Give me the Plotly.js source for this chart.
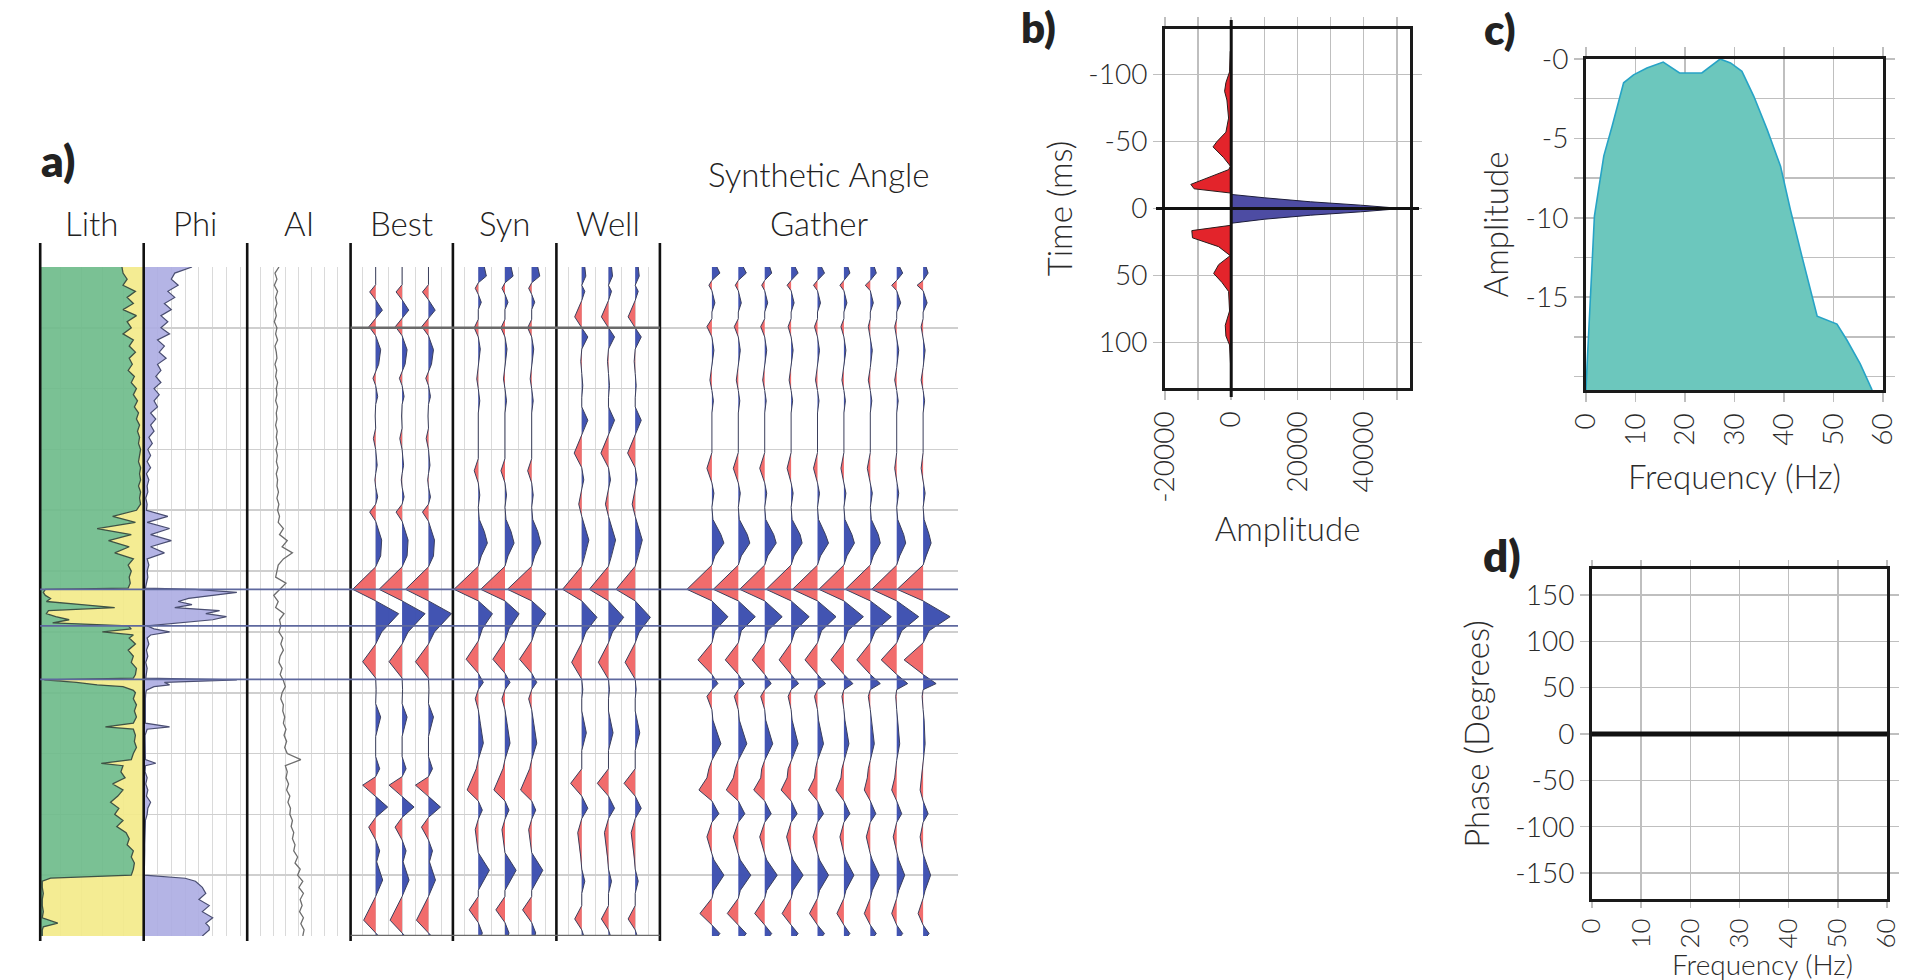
<!DOCTYPE html>
<html><head><meta charset="utf-8">
<script src="https://cdn.plot.ly/plotly-3.0.1.min.js"></script>
<style>html,body{margin:0;padding:0;background:#fff;} #chart{width:1909px;height:980px;}</style>
</head><body><div id="chart"></div>
<script>
// ---------------- DATA ----------------
// Panel a : well logs (depth in display units, 0 = top of section)
const logDepth = [0,1,2,3,4,5,6,7,8,9,10,11,12,13,14,15,16,17,18,19,20,21,22,23,24,25,26,27,28,29,30,31,32,33,34,35,36,37,38,39,40,41,42,43,44,45,46,47,48,49,50,51,52,52.8,53.0,53.5,54,54.5,55,55.5,56,56.5,57,57.5,58,58.5,59,59.5,60,60.5,61,62,63,64,65,66,67,67.6,67.9,68.3,68.7,69,69.6,70,71,72,73,74,75,75.6,76,77,78,79,80,81,81.6,82,83,84,85,86,87,88,89,90,91,92,93,94,95,96,97,98,99,100,100.5,101,102,103,104,105,106,107,107.9,108.5,109,110];
const lithShale = [0.79,0.80,0.84,0.80,0.92,0.84,0.90,0.80,0.93,0.84,0.88,0.80,0.90,0.86,0.92,0.86,0.89,0.85,0.91,0.88,0.93,0.90,0.94,0.91,0.95,0.93,0.96,0.94,0.96,0.95,0.97,0.96,0.95,0.97,0.96,0.97,0.95,0.97,0.96,0.97,0.93,0.70,0.92,0.55,0.88,0.66,0.86,0.72,0.90,0.85,0.88,0.86,0.87,0.85,0.05,0.03,0.05,0.10,0.06,0.40,0.72,0.08,0.06,0.15,0.28,0.12,0.85,0.88,0.60,0.90,0.86,0.92,0.85,0.90,0.88,0.93,0.92,0.90,0.04,0.35,0.55,0.80,0.90,0.92,0.90,0.93,0.91,0.93,0.90,0.63,0.90,0.92,0.91,0.93,0.90,0.88,0.59,0.80,0.78,0.82,0.70,0.80,0.75,0.68,0.76,0.72,0.80,0.74,0.83,0.86,0.84,0.90,0.88,0.91,0.90,0.88,0.10,0.02,0.02,0.03,0.02,0.02,0.03,0.02,0.17,0.03,0.02,0.02];
const phiValue = [0.14,0.09,0.08,0.10,0.07,0.09,0.06,0.08,0.05,0.07,0.05,0.075,0.04,0.06,0.045,0.065,0.04,0.05,0.035,0.05,0.03,0.045,0.03,0.04,0.02,0.035,0.02,0.03,0.015,0.025,0.012,0.02,0.01,0.02,0.008,0.015,0.01,0.012,0.006,0.01,0.008,0.07,0.01,0.075,0.02,0.08,0.02,0.06,0.01,0.015,0.01,0.012,0.008,0.005,0.15,0.27,0.2,0.13,0.10,0.14,0.09,0.22,0.18,0.24,0.20,0.10,0.01,0.03,0.075,0.02,0.01,0.015,0.008,0.012,0.006,0.01,0.008,0.006,0.27,0.06,0.075,0.03,0.008,0.006,0.005,0.005,0.005,0.006,0.005,0.075,0.01,0.004,0.004,0.005,0.004,0.005,0.035,0.005,0.004,0.01,0.006,0.012,0.008,0.02,0.012,0.01,0.005,0.004,0.003,0.003,0.003,0.003,0.002,0.002,0.002,0.002,0.12,0.15,0.17,0.18,0.16,0.19,0.17,0.20,0.18,0.19,0.19,0.17];
const aiDepth = [0,1,2,3,4,5,6,7,8,9,10,11,12,13,14,15,16,17,18,19,20,21,22,23,24,25,26,27,28,29,30,31,32,33,34,35,36,37,38,39,40,41,42,43,44,45,46,47,48,49,50,51,52,53,54,55,56,57,58,59,60,61,62,63,64,65,66,67,68,69,70,71,72,73,74,75,76,77,78,79,80,81,82,83,84,85,86,87,88,89,90,91,92,93,94,95,96,97,98,99,100,101,102,103,104,105,106,107,108,109,110];
const aiValue = [6460,6150,6300,6100,6350,6200,6300,6150,6250,6100,6300,6200,6350,6150,6250,6300,6150,6280,6200,6350,6250,6300,6200,6350,6250,6300,6200,6320,6250,6350,6230,6330,6260,6380,6250,6350,6300,6420,6300,6450,6350,6500,6400,6800,6500,7100,6700,7500,6800,6400,6300,6200,7000,6500,6050,6400,6200,6850,6500,6600,6450,6750,6600,6800,6550,6450,6700,6550,6800,6950,6700,6600,6800,6750,6900,6800,7000,6850,7050,6900,7100,8150,6950,7100,7000,7200,7050,7300,7150,7350,7300,7500,7400,7600,7500,7700,7600,7900,7700,8100,7900,8300,8000,8350,8100,8250,8050,8350,8150,8400,8300];

// Horizons (display depth)
const horizons = [53.0, 59.0, 67.8];

// Wiggle traces : key-point times and amplitudes
const bestT = [0,2.9,4.1,5.4,7.1,8.4,9.8,11.3,13.6,16.0,17.2,18.3,19.5,21.3,22.6,24.5,26.5,28.2,30.0,32.6,34.0,35.0,36.2,37.8,39.0,40.3,41.8,44.9,47.5,49.3,53.0,54.9,57.0,60.0,62.0,64.9,67.6,69.5,71.8,74.0,77.2,80.5,82.5,83.8,85.2,87.0,88.8,90.5,92.1,94.2,96.0,97.8,100.8,103.5,107.4,109.5,110];
const bestA = [0,0,-6,0,6.7,0,-6.7,0,5,3,0,-2.7,0,2,0,-0.5,0,-2.3,0,1.5,0,-0.8,0,2,0,-6,0,6,5,0,-23,0,23,6,0,-13,0,0.5,0,5,0,0,4,0,-13,0,12,0,-7,0,4,1,7,0,-12,0,3];
const synT = [0,1.5,2.6,3.5,4.5,5.8,7.0,8.6,10.0,11.5,13.5,16.5,18.4,20.0,22.0,24.0,31.5,33.5,35.5,37.5,39.5,41.5,43.5,45.4,47.5,49.2,53.0,54.9,57.0,59.5,61.5,64.5,66.8,68.3,69.5,71.0,72.8,75.0,78.3,81.0,82.5,86.0,87.8,89.3,90.8,92.5,96.3,99.2,102.5,103.5,105.7,107.8,109.5,110];
const synA = [6,8,0,-3,0,3,0,0,-4,0,2,0,-1.5,0,1.5,0,0,-4,0,1.5,0,1,6,9,3,0,-24,0,14,4,0,-12,0,5,0,-3,0,2,5,0,-2,-11,0,4,0,-3,0,11,0,0,-9,0,4,3];
const wellT = [0,1.5,3.0,4.0,5.5,8.2,10.0,11.5,13.5,15.5,17.5,19.5,21.5,23.0,25.2,27.5,30.6,33.0,35.0,36.5,39.0,41.0,44.9,47.5,49.2,53.0,54.9,57.6,60.0,61.8,65.0,67.8,69.5,71.0,73.0,76.6,79.5,82.5,84.9,87.0,89.0,90.7,93.0,97.0,99.0,101.0,103.0,105.0,107.2,109.0,110];
const wellA = [3,4,0,3,0,-7,0,6,0,-1,0,1,0,0,6,0,-7.5,0,2,0,-3,0,7,3,0,-19,0,15,4,0,-10,0,1,0,0,4.5,0,0,-11,0,6,0,-4,-1,0,3,0,0,-7,0,2];

// Synthetic angle gather (9 angle traces sharing key times)
const gatherT = [0,1.0,2.2,3.0,3.9,5.9,7.4,8.5,9.8,11.5,13.7,16.5,18.6,20.3,22.0,24.0,30.5,33.1,35.5,37.2,39.5,41.5,44.0,45.4,47.5,49.0,53.0,54.9,57.5,59.8,61.8,64.6,67.0,68.5,69.5,70.6,72.8,74.5,78.4,81.1,82.5,84.0,86.0,87.8,89.9,91.3,93.7,96.5,97.5,100.0,102.5,103.8,106.3,108.2,109.6,110];
const gather1 = [5,8,0,-3,0,3,0,0,-5,0,2,0,-2,0,1.5,0,0,-5,0,2,0,1,9,12,3,0,-25,0,16,3,0,-14,0,6,0,-5,0,1,9,0,-3,-5,-13,0,7,0,-5,0,2,12,2,0,-12,0,8,6];
const gather2 = [5,8,0,-3,0,3,0,0,-4,0,2,0,-2,0,1.5,0,0,-5,0,2,0,1,9,11.5,3,0,-25,0,17,3,0,-13,0,6,0,-4,0,1,8.5,0,-3,-5,-12,0,6.5,0,-5,0,2,12.5,2,0,-11,0,8,6];
const gather3 = [5,7,0,-3,0,3,0,0,-4,0,2,0,-2,0,1.5,0,0,-5,0,2,0,1,9,11.5,3,0,-25,0,17.5,3,0,-12.5,0,6.5,0,-4,0,1,8,0,-3,-4,-11,0,6.5,0,-5,0,2,12.5,2,0,-10,0,7,5];
const gather4 = [4,7,0,-4,0,3,0,0,-3,0,2,0,-2,0,1.5,0,0,-4,0,2,0,1,9,11,3,0,-25,0,18,4,0,-12,0,7.5,0,-3,0,1,7,0,-3,-4,-10,0,6,0,-4.5,0,2,12,2,0,-9,0,7,5];
const gather5 = [4,7,0,-4,0,3,0,0,-3,0,2,0,-2,0,1.5,0,0,-4,0,2,0,1,8,11,3,0,-25,0,18.5,4,0,-12.5,0,8,0,-3,0,1,6,0,-2,-3,-9,0,6,0,-4.5,0,2,11,2,0,-8,0,7,5];
const gather6 = [4,6,0,-4,0,3,0,0,-3,0,2,0,-2,0,1.5,0,0,-3,0,2,0,1,8,10.5,3,0,-25,0,19.5,4,0,-13,0,9,0,-2,0,1,5,0,-2,-3,-8,0,6,0,-4,0,2,10,2,0,-7,0,6,4];
const gather7 = [4,6,0,-5,0,3,0,0,-2,0,2,0,-2,0,1.5,0,0,-3,0,2,0,1,8,10,3,0,-25,0,21,5,0,-13.5,0,10,0,-2,0,1,4,0,-2,-3,-6,0,5.5,0,-4,0,2,9,2,0,-6,0,6,4];
const gather8 = [3,6,0,-5,0,4,0,0,-2,0,2,0,-2,0,1.5,0,0,-2,0,2,0,1,7,9,3,0,-25,0,22,5,0,-15.5,0,11,0,-1,0,1,3,0,-1,-2,-5,0,5,0,-3.5,0,2,8,2,0,-5,0,6,4];
const gather9 = [3,5,0,-6,0,4,0,0,-2,0,2,0,-2,0,1.5,0,0,-2,0,2,0,1,6,8,3,0,-26,0,27,6,0,-19,0,13,0,-1,0,1,2,0,-1,-2,-3,0,5,0,-3,0,2,7.5,2,0,-5,0,6,4];

// Panel b : wavelet
const waveTime = [-120,-117,-102,-94,-87.5,-81,-67.5,-57,-50,-46,-38,-31.5,-29,-23.5,-18,-14.7,-11.5,-10.5,-8,-5,-2.5,0,2.5,5,8,11,12.5,16.5,21.9,28.5,35.2,41.9,48.5,55.2,61.9,76.5,87.2,95.2,101.9,116.5,120];
const waveAmp = [0,-300,-500,-1600,-2000,-1300,-800,-1600,-4300,-5500,-2300,-200,-800,-6800,-12200,-11200,0,0,10000,24000,39000,51500,39000,24000,10000,0,0,-11900,-11700,-3800,-300,-3800,-5300,-2800,-800,-500,-1800,-1600,-500,-200,0];

// Panel c : amplitude spectrum
const specFreq = [0,0.2,1.7,3.6,5.3,7.6,9.6,12.3,15.6,18.9,23.4,27.1,29.2,31.5,33.9,36.6,39.3,41.3,43.6,46.7,50.7,52.7,55.4,57.8];
const specAmp = [-20.85,-19.4,-9.9,-6.1,-4.2,-1.5,-1.0,-0.57,-0.19,-0.88,-0.88,0,-0.25,-0.78,-2.35,-4.45,-6.76,-9.5,-12.4,-16.2,-16.7,-17.7,-19.2,-20.85];

// Panel d : phase spectrum
const phaseFreq = [0,10,20,30,40,50,60];
const phaseDeg = [0,0,0,0,0,0,0];

// Tick labels
const ampTickVals = [-20000,-10000,0,10000,20000,30000,40000,50000];
const ampTickText = ['-20000','','0','','20000','','40000',''];
const timeTickVals = [-100,-50,0,50,100];
const timeTickText = ['-100','-50','0','50','100'];
const freqTickVals = [0,10,20,30,40,50,60];
const freqTickText = ['0','10','20','30','40','50','60'];
const specTickVals = [0,-2.5,-5,-7.5,-10,-12.5,-15,-17.5,-20];
const specTickText = ['-0','','-5','','-10','','-15','',''];
const phaseTickVals = [-150,-100,-50,0,50,100,150];
const phaseTickText = ['-150','-100','-50','0','50','100','150'];
const columnTitles = ['Lith','Phi','AI','Best','Syn','Well'];

// ---------------- STYLE / LAYOUT HELPERS ----------------
const W = 1909, H = 980;
const px = v => v / W;
const py = v => 1 - v / H;
const DIV = [40.2, 143.7, 247.2, 350.6, 452.9, 556.4, 659.9];
const GATHER_RIGHT = 958;
const FONT = 'Lato, "Open Sans", "DejaVu Sans", sans-serif';
const RED = 'rgba(240,100,100,0.95)';
const BLUE = 'rgba(60,78,176,0.97)';
const GAIN = 1 / 26.4;

const traces = [];
const base = {type:'scatter', mode:'lines', hoverinfo:'skip', showlegend:false};
const noLine = {width:0, color:'rgba(0,0,0,0)'};

// Lith
const dTop = logDepth[0], dBot = logDepth[logDepth.length - 1];
traces.push({...base, x: lithShale.concat([1, 1]), y: logDepth.concat([dBot, dTop]), fill:'toself', fillcolor:'rgba(243,234,135,0.9)', line:noLine, xaxis:'x', yaxis:'y'});
traces.push({...base, x: lithShale.concat([0, 0]), y: logDepth.concat([dBot, dTop]), fill:'toself', fillcolor:'rgba(108,186,136,0.9)', line:noLine, xaxis:'x', yaxis:'y'});
traces.push({...base, x: lithShale, y: logDepth, line:{color:'#3e5244', width:1.3}, xaxis:'x', yaxis:'y'});
// Phi
traces.push({...base, x: phiValue.concat([0, 0]), y: logDepth.concat([dBot, dTop]), fill:'toself', fillcolor:'rgba(172,172,226,0.9)', line:noLine, xaxis:'x2', yaxis:'y'});
traces.push({...base, x: phiValue, y: logDepth, line:{color:'#4a4e72', width:1.2}, xaxis:'x2', yaxis:'y'});
// AI
traces.push({...base, x: aiValue, y: aiDepth, line:{color:'#6e6e6e', width:1.3}, xaxis:'x3', yaxis:'y'});

function wiggle(t, a, k, xa) {
  const t0 = t[0], t1 = t[t.length - 1];
  const pos = a.map(v => k + GAIN * Math.max(v, 0));
  const neg = a.map(v => k + GAIN * Math.min(v, 0));
  traces.push({...base, x: pos.concat([k, k]), y: t.concat([t1, t0]), fill:'toself', fillcolor:BLUE, line:noLine, xaxis:xa, yaxis:'y'});
  traces.push({...base, x: neg.concat([k, k]), y: t.concat([t1, t0]), fill:'toself', fillcolor:RED, line:noLine, xaxis:xa, yaxis:'y'});
  traces.push({...base, x: a.map(v => k + GAIN * v), y: t, line:{color:'#3b3f5c', width:1}, xaxis:xa, yaxis:'y'});
}
[0, 1, 2].forEach(k => wiggle(bestT, bestA, k, 'x4'));
[0, 1, 2].forEach(k => wiggle(synT, synA, k, 'x5'));
[0, 1, 2].forEach(k => wiggle(wellT, wellA, k, 'x6'));
[gather1, gather2, gather3, gather4, gather5, gather6, gather7, gather8, gather9].forEach((g, k) => wiggle(gatherT, g, k, 'x7'));

// Panel b wavelet
traces.push({...base, x: waveAmp.map(v => Math.min(v, 0)), y: waveTime, fill:'tozerox', fillcolor:'#e3242b', line:{color:'#2a1a1a', width:1}, xaxis:'x8', yaxis:'y2'});
traces.push({...base, x: waveAmp.map(v => Math.max(v, 0)), y: waveTime, fill:'tozerox', fillcolor:'#4d4ca3', line:{color:'#1c1c3a', width:1}, xaxis:'x8', yaxis:'y2'});

// Panel c spectrum
traces.push({...base, x: specFreq, y: specAmp, fill:'toself', fillcolor:'#6cc7bd', line:{color:'#27a3c6', width:1.6}, xaxis:'x9', yaxis:'y3'});

// Panel d phase
traces.push({...base, x: phaseFreq, y: phaseDeg, line:{color:'#111', width:5}, xaxis:'x10', yaxis:'y4'});

// ---------------- AXES ----------------
const hidden = {showticklabels:false, ticks:'', zeroline:false, showline:false, fixedrange:true, automargin:false};
const colGrid = {showgrid:true, gridcolor:'rgba(150,150,150,0.35)', gridwidth:1};
const wigRange = [-0.95, -0.95 + (DIV[4] - DIV[3]) / 26.4];

const boxAxis = (extra) => Object.assign({
  showline:true, linecolor:'#1a1a1a', linewidth:3, mirror:'ticks',
  showgrid:true, gridcolor:'#bfbfbf', gridwidth:1.5, zeroline:false,
  ticks:'outside', ticklen:9, tickwidth:1.5, tickcolor:'#bfbfbf',
  tickmode:'array', tickfont:{family:FONT, size:28, color:'#2b2b2b', weight:300},
  fixedrange:true, automargin:false
}, extra);
const titleFont = {family:FONT, size:33, color:'#2b2b2b', weight:300};

const layout = {
  width:W, height:H, margin:{l:0, r:0, t:0, b:0, pad:0},
  paper_bgcolor:'#ffffff', plot_bgcolor:'rgba(0,0,0,0)', showlegend:false,
  font:{family:FONT, size:28, color:'#2b2b2b', weight:300},
  xaxis:  {...hidden, ...colGrid, domain:[px(DIV[0]), px(DIV[1])], range:[0, 1], dtick:0.2, tick0:0, anchor:'y'},
  xaxis2: {...hidden, ...colGrid, domain:[px(DIV[1]), px(DIV[2])], range:[0, 0.3], dtick:0.04, tick0:0, anchor:'y'},
  xaxis3: {...hidden, ...colGrid, domain:[px(DIV[2]), px(DIV[3])], range:[4000, 12000], dtick:1000, tick0:4000, anchor:'y'},
  xaxis4: {...hidden, ...colGrid, domain:[px(DIV[3]), px(DIV[4])], range:wigRange, dtick:0.5, tick0:0, anchor:'y'},
  xaxis5: {...hidden, ...colGrid, domain:[px(DIV[4]), px(DIV[5])], range:wigRange, dtick:0.5, tick0:0, anchor:'y'},
  xaxis6: {...hidden, ...colGrid, domain:[px(DIV[5]), px(DIV[6])], range:wigRange, dtick:0.5, tick0:0, anchor:'y'},
  xaxis7: {...hidden, showgrid:false, domain:[px(DIV[6]), px(GATHER_RIGHT)], range:[-1.97, -1.97 + (GATHER_RIGHT - DIV[6]) / 26.4], anchor:'y'},
  yaxis:  {...hidden, showgrid:true, gridcolor:'#cfcfcf', gridwidth:1.6, domain:[py(936), py(267)], range:[110, 0], dtick:10, tick0:0, anchor:'x'},

  xaxis8: boxAxis({domain:[px(1165), px(1410)], range:[-20000, 54000], anchor:'y2', tickvals:ampTickVals, ticktext:ampTickText, tickangle:-90,
           title:{text:'Amplitude', font:titleFont, standoff:17}}),
  yaxis2: boxAxis({domain:[py(388), py(29)], range:[134, -134], anchor:'x8', tickvals:timeTickVals, ticktext:timeTickText,
           title:{text:'Time (ms)', font:titleFont, standoff:6}}),
  xaxis9: boxAxis({domain:[px(1586), px(1883)], range:[0, 60], anchor:'y3', tickvals:freqTickVals, ticktext:freqTickText, tickangle:-90,
           title:{text:'Frequency (Hz)', font:titleFont, standoff:22}}),
  yaxis3: boxAxis({domain:[py(390), py(59)], range:[-20.85, 0], anchor:'x9', tickvals:specTickVals, ticktext:specTickText,
           title:{text:'Amplitude', font:titleFont, standoff:8}}),
  xaxis10: boxAxis({domain:[px(1592), px(1887)], range:[0, 60], anchor:'y4', tickvals:freqTickVals, ticktext:freqTickText, tickangle:-90,
           ticklen:6, tickfont:{family:FONT, size:26, color:'#2b2b2b', weight:300}}),
  yaxis4: boxAxis({domain:[py(899), py(569)], range:[-178, 178], anchor:'x10', tickvals:phaseTickVals, ticktext:phaseTickText,
           title:{text:'Phase (Degrees)', font:titleFont, standoff:16}}),
  shapes:[], annotations:[]
};

// Dividers of panel a
DIV.forEach(x => layout.shapes.push({type:'line', xref:'paper', yref:'paper', x0:px(x), x1:px(x), y0:py(941), y1:py(243), line:{color:'#111', width:2.6}, layer:'above'}));
// Horizon markers
horizons.forEach(h => layout.shapes.push({type:'line', xref:'paper', yref:'y', x0:px(DIV[0]), x1:px(GATHER_RIGHT), y0:h, y1:h, line:{color:'#5e689e', width:1.6}, layer:'above'}));
// Section top/bottom lines over the seismic columns
[10, 110].forEach(h => layout.shapes.push({type:'line', xref:'paper', yref:'y', x0:px(DIV[3]), x1:px(DIV[6]), y0:h, y1:h, line:{color:'#6a6a6a', width:2.4}, layer:'above'}));
// Panel b zero lines
layout.shapes.push({type:'line', xref:'paper', yref:'y2', x0:px(1156), x1:px(1419), y0:0, y1:0, line:{color:'#111', width:3}, layer:'above'});
layout.shapes.push({type:'line', xref:'x8', yref:'paper', x0:0, x1:0, y0:py(397), y1:py(20), line:{color:'#111', width:3}, layer:'above'});

// Titles / labels
const ann = (text, x, y, size, weight) => ({text, xref:'paper', yref:'paper', x:px(x), y:py(y), xanchor:'center', yanchor:'middle', showarrow:false,
  font:{family:FONT, size:size, color:'#222', weight:weight}});
layout.annotations.push(ann('a)', 58, 160, 44, 800));
layout.annotations.push(ann('b)', 1038, 27, 42, 800));
layout.annotations.push(ann('c)', 1500, 29, 42, 800));
layout.annotations.push(ann('d)', 1502, 555, 44, 800));
columnTitles.forEach((t, i) => layout.annotations.push(ann(t, (DIV[i] + DIV[i + 1]) / 2, 223, 33, 300)));
layout.annotations.push(ann('Synthetic Angle', 819, 174, 33, 300));
layout.annotations.push(ann('Gather', 819, 223, 33, 300));
// Panel d x-axis title, kept just inside the bottom edge
const dTitle = ann('Frequency (Hz)', 1762, 964, 28, 300);
dTitle.font.color = '#2b2b2b';
layout.annotations.push(dTitle);

Plotly.newPlot('chart', traces, layout, {displayModeBar:false, staticPlot:true});
</script></body></html>
